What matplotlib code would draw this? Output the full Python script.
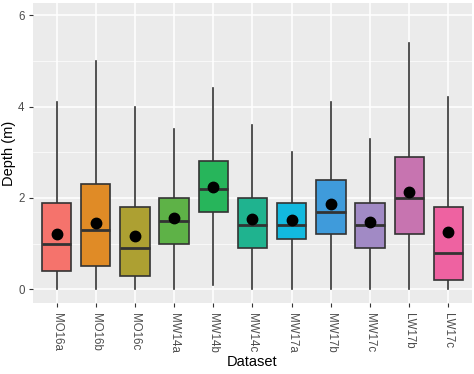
import matplotlib
matplotlib.use('Agg')
import matplotlib.pyplot as plt
import numpy as np

plt.rcParams['font.family'] = ['Liberation Sans', 'DejaVu Sans']

datasets = ['MO16a', 'MO16b', 'MO16c', 'MW14a', 'MW14b', 'MW14c',
            'MW17a', 'MW17b', 'MW17c', 'LW17b', 'LW17c']
whislo = [0.0, 0.0, 0.0, 0.0, 0.1, 0.0, 0.0, 0.0, 0.0, 0.0, 0.0]
q1 = [0.4, 0.5, 0.3, 1.0, 1.7, 0.9, 1.1, 1.2, 0.9, 1.2, 0.2]
med = [1.0, 1.3, 0.9, 1.5, 2.2, 1.4, 1.4, 1.7, 1.4, 2.0, 0.8]
q3 = [1.9, 2.3, 1.8, 2.0, 2.8, 2.0, 1.9, 2.4, 1.9, 2.9, 1.8]
whishi = [4.1, 5.0, 4.0, 3.5, 4.4, 3.6, 3.0, 4.1, 3.3, 5.4, 4.2]
means = [1.2, 1.45, 1.17, 1.55, 2.25, 1.53, 1.51, 1.86, 1.48, 2.12, 1.26]

colors = ['#F5736C', '#E08B26', '#ADA032', '#5EB247', '#27B55B', '#1FB38F',
          '#12B9DF', '#3F9BDB', '#A18AC5', '#C774B0', '#EE62A1']

stats = []
for i in range(len(datasets)):
    stats.append(dict(whislo=whislo[i], q1=q1[i], med=med[i], q3=q3[i],
                      whishi=whishi[i], fliers=[], label=datasets[i]))

fig = plt.figure(figsize=(4.74, 3.74), dpi=100)
ax = fig.add_axes([0.0696, 0.19, 0.926, 0.802])
ax.set_facecolor('#EBEBEB')

pos = np.arange(1, len(datasets) + 1)
edge = '#333333'
bp = ax.bxp(stats, positions=pos, widths=0.75, patch_artist=True,
            showcaps=False, showfliers=False,
            boxprops=dict(edgecolor=edge, linewidth=1.2),
            whiskerprops=dict(color=edge, linewidth=1.2),
            medianprops=dict(color=edge, linewidth=2.0))
for patch, c in zip(bp['boxes'], colors):
    patch.set_facecolor(c)
for w in bp['whiskers']:
    w.set_zorder(1.5)

ax.plot(pos, means, 'o', color='black', markersize=7.5, zorder=5)

ax.set_xlim(0.4, 11.6)
ax.set_ylim(-0.3, 6.27)
ax.set_yticks([0, 2, 4, 6])
ax.set_yticks([1, 3, 5], minor=True)
ax.set_xticks(pos)
ax.set_xticklabels(datasets, rotation=-90)

ax.grid(True, which='major', color='white', linewidth=1.1)
ax.grid(True, which='minor', axis='y', color='white', linewidth=0.5)
ax.set_axisbelow(True)
for s in ax.spines.values():
    s.set_visible(False)

ax.tick_params(axis='both', which='major', length=3, width=0.8, color='#333333',
               labelcolor='#4D4D4D', labelsize=8.3)
ax.tick_params(axis='both', which='minor', length=0)
ax.tick_params(axis='x', pad=4)
ax.tick_params(axis='y', pad=3)

ax.set_xlabel('Dataset', fontsize=10.5)
ax.set_ylabel('Depth (m)', fontsize=10.5)
ax.xaxis.set_label_coords(0.5, -0.172)
ax.yaxis.set_label_coords(-0.038, 0.5)

fig.savefig('out.png', dpi=100)
